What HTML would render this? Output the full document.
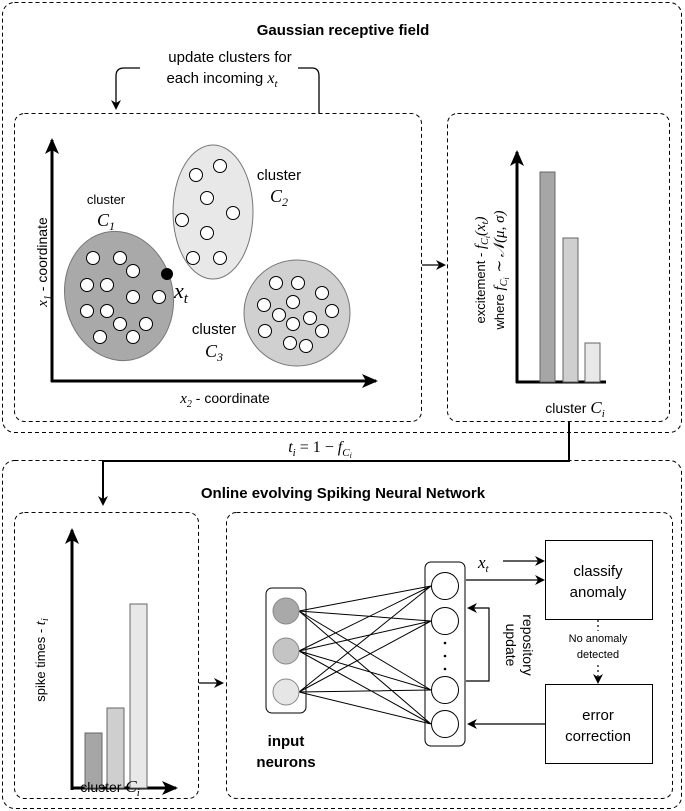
<!DOCTYPE html>
<html><head><meta charset="utf-8"><style>html,body{margin:0;padding:0;background:#fff}svg{display:block}text{font-family:"Liberation Sans",sans-serif}.m{font-family:"Liberation Serif",serif;font-style:italic}</style></head><body>
<svg width="685" height="811" viewBox="0 0 685 811" xmlns="http://www.w3.org/2000/svg">
<defs><marker id="a" markerWidth="10" markerHeight="10" refX="8" refY="5" orient="auto" markerUnits="userSpaceOnUse"><path d="M0,0 L10,5 L0,10 L3,5 Z" fill="#000"/></marker>
<marker id="b" markerWidth="16" markerHeight="14" refX="14" refY="7" orient="auto" markerUnits="userSpaceOnUse"><path d="M0,0 L16,7 L0,14 L4,7 Z" fill="#000"/></marker></defs>
<g fill="none" stroke="#000" stroke-width="1" stroke-dasharray="4,3">
<rect x="2.5" y="2.5" width="679" height="430" rx="12"/>
<rect x="2.5" y="460.5" width="679" height="348" rx="12"/>
<rect x="14.5" y="113.5" width="407" height="308" rx="10"/>
<rect x="447.5" y="113.5" width="222" height="308" rx="10"/>
<rect x="14.5" y="512.5" width="184" height="286" rx="10"/>
<rect x="226.5" y="512.5" width="446" height="286" rx="10"/>
</g>
<text x="343" y="35" font-size="15" font-weight="bold" text-anchor="middle">Gaussian receptive field</text>
<text x="343" y="498" font-size="15" font-weight="bold" text-anchor="middle">Online evolving Spiking Neural Network</text>
<text x="230" y="62" font-size="15" text-anchor="middle">update clusters for</text>
<text x="222" y="83" font-size="15" text-anchor="middle">each incoming <tspan class="m" font-size="16">x</tspan><tspan class="m" font-size="11" dy="4">t</tspan></text>
<g fill="none" stroke="#000" stroke-width="1.3">
<path d="M140,68 H124 Q116,68 116,76 V108" marker-end="url(#a)"/>
<path d="M298,68 H312 Q319,68 319,76 V113"/>
<path d="M422,265 H444" marker-end="url(#a)"/>
<path d="M569,422 V461 H103 V504" stroke-width="2" marker-end="url(#a)"/>
<path d="M199,683 H222" marker-end="url(#a)"/>
</g>
<text x="320" y="452" font-size="16" text-anchor="middle" class="m">t<tspan font-size="11" dy="4">i</tspan><tspan dy="-4" font-style="normal"> = 1 − </tspan>f<tspan font-size="11" dy="4">C</tspan><tspan font-size="8" dy="2">i</tspan></text>
<!-- scatter axes -->
<g stroke="#000" stroke-width="3" fill="none">
<path d="M52,382 V140" marker-end="url(#b)"/>
<path d="M51,381 H376" marker-end="url(#b)"/>
</g>
<ellipse cx="119" cy="296" rx="54" ry="65" transform="rotate(-12 119 296)" fill="#a9a9a9" stroke="#777"/>
<ellipse cx="213" cy="212" rx="40" ry="67" fill="#e8e8e8" stroke="#777"/>
<circle cx="297" cy="313" r="53" fill="#d0d0d0" stroke="#777"/>
<g fill="#fff" stroke="#000" stroke-width="1">
<circle cx="93" cy="258" r="6.5"/><circle cx="120" cy="258" r="6.5"/><circle cx="133" cy="271" r="6.5"/><circle cx="87" cy="285" r="6.5"/><circle cx="107" cy="285" r="6.5"/><circle cx="133" cy="297" r="6.5"/><circle cx="159" cy="297" r="6.5"/><circle cx="87" cy="311" r="6.5"/><circle cx="107" cy="311" r="6.5"/><circle cx="120" cy="324" r="6.5"/><circle cx="146" cy="324" r="6.5"/><circle cx="100" cy="337" r="6.5"/><circle cx="133" cy="337" r="6.5"/>
<circle cx="196" cy="175" r="6.5"/><circle cx="220" cy="166" r="6.5"/><circle cx="207" cy="198" r="6.5"/><circle cx="233" cy="213" r="6.5"/><circle cx="182" cy="220" r="6.5"/><circle cx="207" cy="233" r="6.5"/><circle cx="193" cy="258" r="6.5"/><circle cx="220" cy="258" r="6.5"/>
<circle cx="276" cy="283" r="6.5"/><circle cx="298" cy="283" r="6.5"/><circle cx="322" cy="293" r="6.5"/><circle cx="264" cy="305" r="6.5"/><circle cx="293" cy="302" r="6.5"/><circle cx="279" cy="315" r="6.5"/><circle cx="310" cy="318" r="6.5"/><circle cx="332" cy="311" r="6.5"/><circle cx="293" cy="324" r="6.5"/><circle cx="265" cy="331" r="6.5"/><circle cx="322" cy="331" r="6.5"/><circle cx="290" cy="343" r="6.5"/><circle cx="306" cy="346" r="6.5"/>
</g>
<circle cx="167" cy="274" r="6" fill="#000"/>
<text x="174" y="298" font-size="22" class="m">x<tspan font-size="15" dy="5">t</tspan></text>
<text x="106" y="204" font-size="13" text-anchor="middle">cluster</text>
<text x="106" y="226" font-size="18" text-anchor="middle" class="m">C<tspan font-size="12" dy="4">1</tspan></text>
<text x="279" y="180" font-size="15" text-anchor="middle">cluster</text>
<text x="279" y="202" font-size="18" text-anchor="middle" class="m">C<tspan font-size="12" dy="4">2</tspan></text>
<text x="214" y="334" font-size="15" text-anchor="middle">cluster</text>
<text x="214" y="357" font-size="18" text-anchor="middle" class="m">C<tspan font-size="12" dy="4">3</tspan></text>
<text x="225" y="403" font-size="14" text-anchor="middle"><tspan class="m" font-size="15">x</tspan><tspan class="m" font-size="10" dy="4">2</tspan><tspan dy="-4"> - coordinate</tspan></text>
<text transform="translate(47,262) rotate(-90)" font-size="14" text-anchor="middle"><tspan class="m" font-size="15">x</tspan><tspan class="m" font-size="10" dy="4">1</tspan><tspan dy="-4"> - coordinate</tspan></text>
<!-- excitement chart -->
<g stroke="#000" stroke-width="3" fill="none">
<path d="M517,383 V152" marker-end="url(#b)"/>
<path d="M516,382 H606"/>
</g>
<rect x="540" y="172" width="15" height="210" fill="#a6a6a6" stroke="#666"/>
<rect x="563" y="238" width="15" height="144" fill="#cfcfcf" stroke="#666"/>
<rect x="585" y="343" width="15" height="39" fill="#e8e8e8" stroke="#666"/>
<text transform="translate(485,270) rotate(-90)" font-size="13" text-anchor="middle">excitement - <tspan class="m" font-size="15">f</tspan><tspan class="m" font-size="10" dy="3">C</tspan><tspan class="m" font-size="8" dy="2">i</tspan><tspan class="m" font-size="15" dy="-5">(x</tspan><tspan class="m" font-size="10" dy="3">t</tspan><tspan class="m" font-size="15" dy="-3">)</tspan></text>
<text transform="translate(504,270) rotate(-90)" font-size="13" text-anchor="middle">where <tspan class="m" font-size="15">f</tspan><tspan class="m" font-size="10" dy="3">C</tspan><tspan class="m" font-size="8" dy="2">i</tspan><tspan class="m" font-size="15" dy="-5"> ∼ 𝒩(μ, σ)</tspan></text>
<text x="575" y="413" font-size="14" text-anchor="middle">cluster <tspan class="m" font-size="17">C</tspan><tspan class="m" font-size="11" dy="4">i</tspan></text>
<!-- spike chart -->
<g stroke="#000" stroke-width="3" fill="none">
<path d="M72,790 V530" marker-end="url(#b)"/>
<path d="M71,788 H176" marker-end="url(#b)"/>
</g>
<rect x="85" y="733" width="17" height="55" fill="#a6a6a6" stroke="#666"/>
<rect x="107" y="708" width="17" height="80" fill="#cfcfcf" stroke="#666"/>
<rect x="130" y="604" width="17" height="184" fill="#e8e8e8" stroke="#666"/>
<text transform="translate(45,660) rotate(-90)" font-size="13" text-anchor="middle">spike times - <tspan class="m" font-size="15">t</tspan><tspan class="m" font-size="10" dy="3">i</tspan></text>
<text x="110" y="792" font-size="14" text-anchor="middle">cluster <tspan class="m" font-size="17">C</tspan><tspan class="m" font-size="11" dy="4">i</tspan></text>
<!-- network -->
<rect x="266" y="588" width="40" height="125" rx="6" fill="none" stroke="#000"/>
<rect x="425" y="562" width="40" height="184" rx="6" fill="none" stroke="#000"/>
<g stroke="#000" stroke-width="1">
<path d="M299,611 L431,586 M299,611 L431,621 M299,611 L431,690 M299,611 L431,724 M299,651 L431,586 M299,651 L431,621 M299,651 L431,690 M299,651 L431,724 M299,692 L431,586 M299,692 L431,621 M299,692 L431,690 M299,692 L431,724"/>
</g>
<circle cx="286" cy="611" r="13" fill="#a9a9a9" stroke="#888"/>
<circle cx="286" cy="651" r="13" fill="#c4c4c4" stroke="#888"/>
<circle cx="286" cy="692" r="13" fill="#e6e6e6" stroke="#888"/>
<g fill="#fff" stroke="#000"><circle cx="445" cy="586" r="13.5"/><circle cx="445" cy="621" r="13.5"/><circle cx="445" cy="690" r="13.5"/><circle cx="445" cy="724" r="13.5"/></g>
<g fill="#000"><circle cx="445" cy="643" r="1.3"/><circle cx="445" cy="656" r="1.3"/><circle cx="445" cy="669" r="1.3"/></g>
<text x="286" y="746" font-size="15" font-weight="bold" text-anchor="middle">input</text>
<text x="286" y="767" font-size="15" font-weight="bold" text-anchor="middle">neurons</text>
<rect x="545.5" y="540.5" width="107" height="79" fill="#fff" stroke="#000"/>
<rect x="545.5" y="684.5" width="107" height="79" fill="#fff" stroke="#000"/>
<text x="598" y="576" font-size="15" text-anchor="middle">classify</text>
<text x="598" y="597" font-size="15" text-anchor="middle">anomaly</text>
<text x="598" y="720" font-size="15" text-anchor="middle">error</text>
<text x="598" y="741" font-size="15" text-anchor="middle">correction</text>
<text x="478" y="568" font-size="17" class="m">x<tspan font-size="11" dy="4">t</tspan></text>
<g fill="none" stroke="#000" stroke-width="1.2">
<path d="M503,561 H543" marker-end="url(#a)"/>
<path d="M466,580 H543" marker-end="url(#a)"/>
<path d="M466,681 H489 V608 H469" marker-end="url(#a)"/>
<path d="M545,724 H469" marker-end="url(#a)"/>
<path d="M598,620 V682" stroke-dasharray="2,3" marker-end="url(#a)"/>
</g>
<rect x="560" y="631" width="76" height="32" fill="#fff"/>
<text x="598" y="642" font-size="11" text-anchor="middle">No anomaly</text>
<text x="598" y="658" font-size="11" text-anchor="middle">detected</text>
<text transform="translate(506,645) rotate(90)" font-size="14" text-anchor="middle">update</text>
<text transform="translate(488,645) rotate(90)" font-size="14" text-anchor="middle" dy="-1"></text>
<text transform="translate(523,645) rotate(90)" font-size="14" text-anchor="middle">repository</text>
</svg>
</body></html>
